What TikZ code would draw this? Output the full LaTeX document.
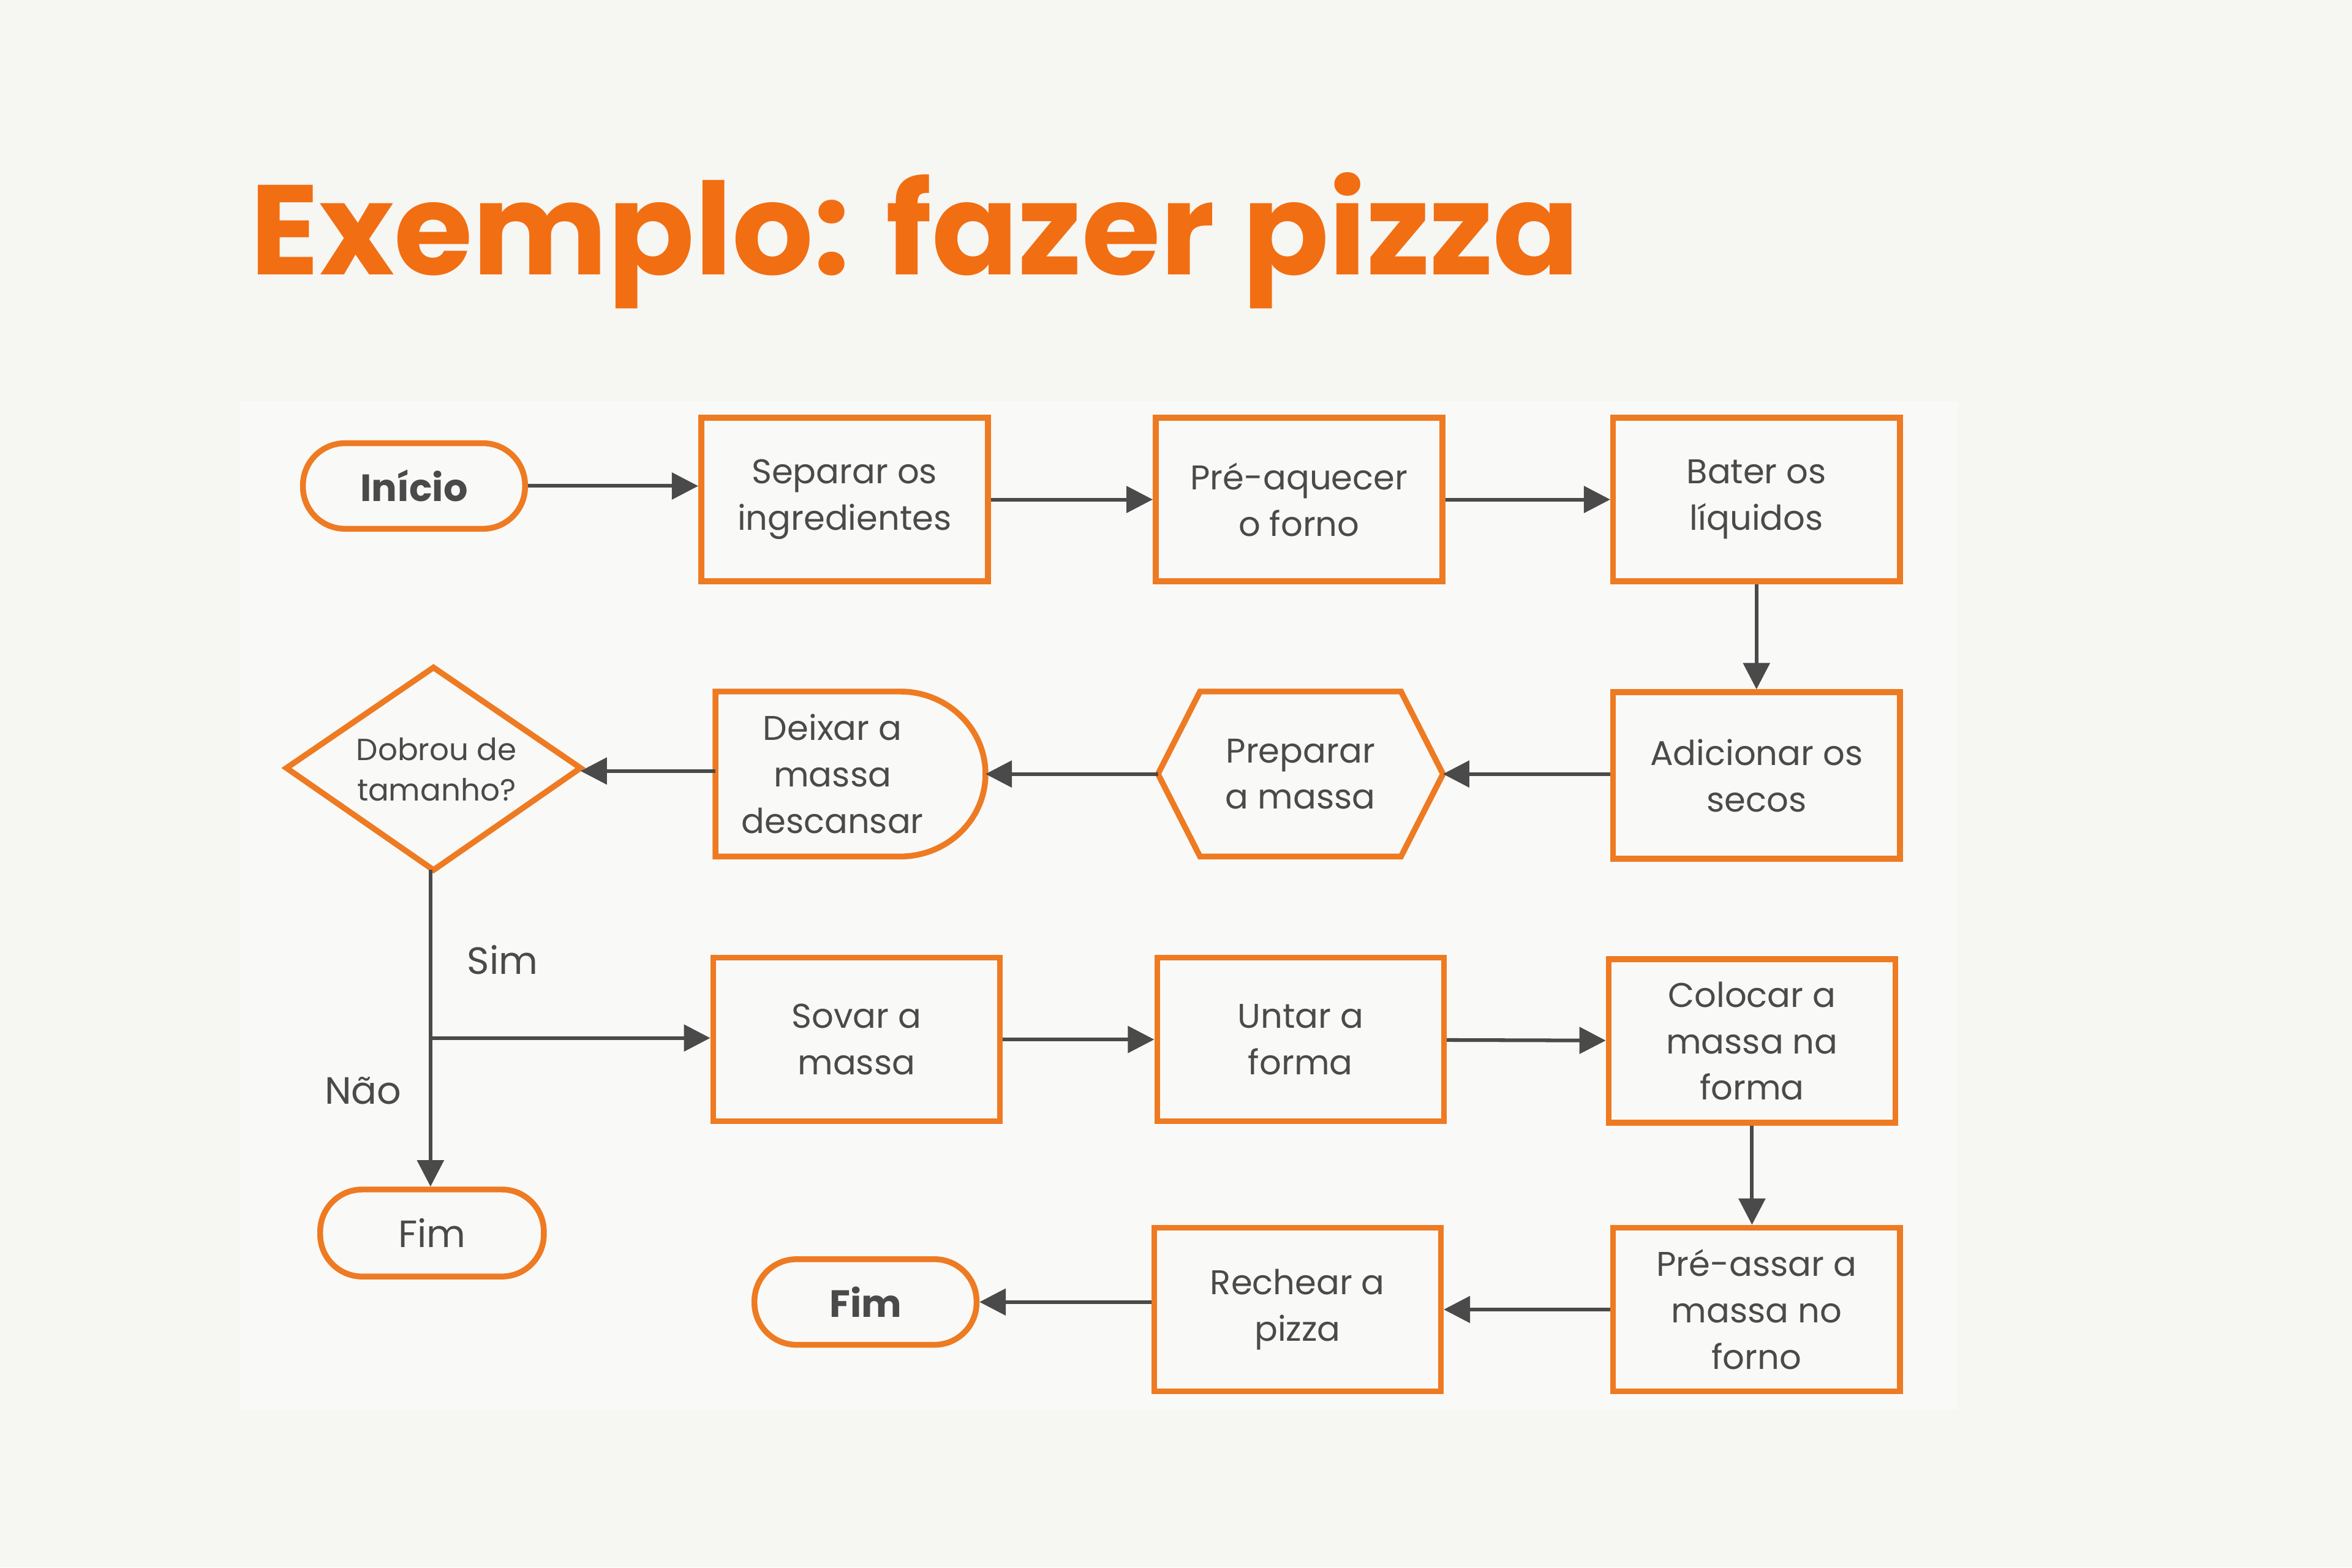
\documentclass[tikz,border=0pt]{standalone}
\usepackage{fontspec}
\setmainfont{Poppins}
\usetikzlibrary{arrows.meta,shapes.geometric}
\definecolor{org}{HTML}{EE7A22}
\definecolor{ttl}{HTML}{F26E12}
\definecolor{txt}{HTML}{4A4A4A}
\definecolor{bg}{HTML}{F6F6F3}
\definecolor{panel}{HTML}{F9F9F7}
\begin{document}
\begin{tikzpicture}[x=0.01cm,y=-0.01cm,
  box/.style={draw=org,line width=1.1pt,rectangle,minimum width=1.91cm,minimum height=1.09cm,align=center,text=txt,font=\fontsize{6.5}{8.8}\selectfont,inner sep=0pt},
  term/.style={draw=org,line width=1.1pt,rounded corners=0.28cm,minimum width=1.48cm,minimum height=0.57cm,text=txt,font=\fontsize{7.2}{9}\selectfont,inner sep=0pt},
  arr/.style={draw=txt,line width=0.7pt,-{Triangle[length=5pt,width=5pt]}},
  lbl/.style={text=txt,font=\fontsize{7.2}{9}\selectfont}]
\useasboundingbox (0,0) rectangle (1568,1045);
\fill[bg] (0,0) rectangle (1568,1045);
\fill[panel] (160,268) rectangle (1305,940);
\node[anchor=base west,text=ttl,font=\fontsize{24.2}{30}\selectfont\bfseries,inner sep=0pt] (title) at (166,183) {Exemplo: fazer pizza};
\node[term,font=\fontsize{7.2}{9}\selectfont\bfseries] (ini) at (276,324) {Início};
\node[box] (sep) at (563,333) {Separar os\\ingredientes};
\node[box] (pre) at (866,333) {Pré-aquecer\\o forno};
\node[box] (bat) at (1171,333) {Bater os\\líquidos};
\node[box,minimum height=1.11cm] (adi) at (1171,517) {Adicionar os\\secos};
% hexagon
\draw[org,line width=1.1pt] (772,516)--(800,461)--(934,461)--(962,516)--(934,571)--(800,571)--cycle;
\node[lbl,align=center,font=\fontsize{6.5}{8.8}\selectfont] (prep) at (867,516) {Preparar\\a massa};
\coordinate (prepR) at (962,516);
\coordinate (prepL) at (772,516);
% delay
\draw[org,line width=1.1pt] (477,461)--(600,461) arc[start angle=-90,end angle=90,x radius=57,y radius=55] -- (477,571)--cycle;
\node[lbl,align=center,font=\fontsize{6.5}{8.8}\selectfont] (dei) at (555,516) {Deixar a\\massa\\descansar};
\coordinate (deiR) at (657,516);
\coordinate (deiL) at (477,516);
% diamond
\draw[org,line width=1.1pt] (191,512)--(289,445)--(387,512)--(289,580)--cycle;
\node[lbl,align=center,font=\fontsize{5.8}{7.6}\selectfont] (dob) at (291,513) {Dobrou de\\tamanho?};
\coordinate (dobR) at (387,514);
\coordinate (dobB) at (287,580);
\coordinate (br) at (287,692);
\node[box] (sov) at (571,693) {Sovar a\\massa};
\node[box] (unt) at (867,693) {Untar a\\forma};
\node[box] (col) at (1168,694) {Colocar a\\massa na\\forma};
\node[box] (pas) at (1171,873) {Pré-assar a\\massa no\\forno};
\node[box] (rec) at (865,873) {Rechear a\\pizza};
\node[term,font=\fontsize{7.2}{9}\selectfont\bfseries] (fim1) at (577,868) {Fim};
\node[term,minimum width=1.49cm,minimum height=0.58cm] (fim2) at (288,822) {Fim};
\node[lbl] (sim) at (335,640) {Sim};
\node[lbl] (nao) at (242,727) {Não};
\draw[arr] (ini.east) -- (sep.west|-ini.east);
\draw[arr] (sep) -- (pre);
\draw[arr] (pre) -- (bat);
\draw[arr] (bat) -- (adi);
\draw[arr] (adi.west|-prepR) -- (prepR);
\draw[arr] (prepL) -- (deiR);
\draw[arr] (deiL|-dobR) -- (dobR);
\draw[arr] (dobB) -- (fim2.north-|dobB);
\draw[arr] (br) -- (sov.west|-br);
\draw[arr] (sov) -- (unt);
\draw[arr] (unt) -- (col);
\draw[arr] (col.south) -- (col.south|-pas.north);
\draw[arr] (pas.west|-rec) -- (rec);
\draw[arr] (rec.west|-fim1) -- (fim1);
\end{tikzpicture}
\end{document}
